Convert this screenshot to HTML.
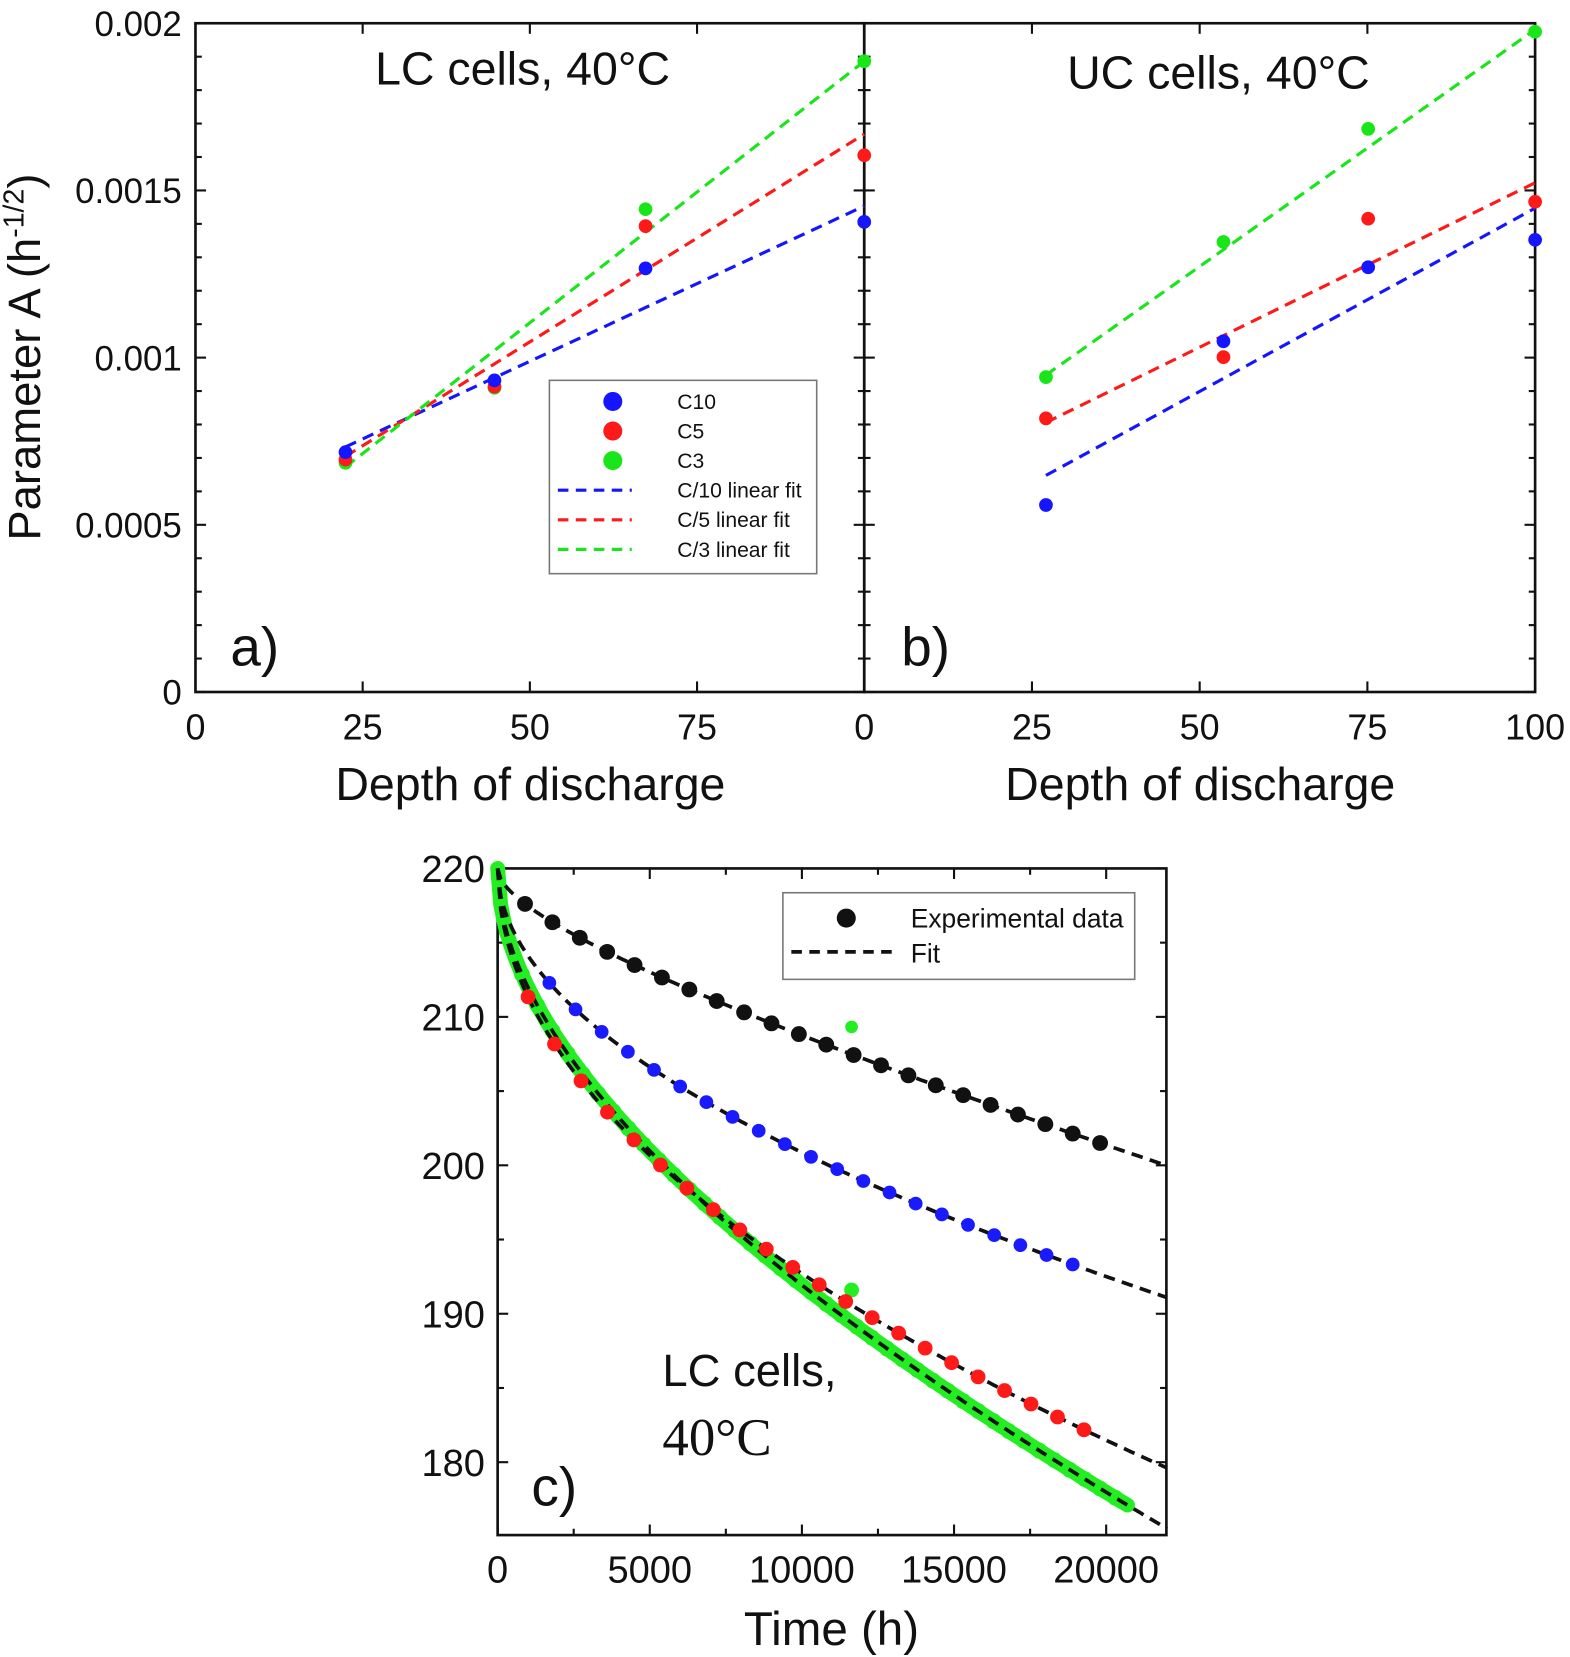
<!DOCTYPE html>
<html><head><meta charset="utf-8"><style>
html,body{margin:0;padding:0;background:#fff;}
svg{display:block;font-family:"Liberation Sans",sans-serif;}
</style></head><body>
<svg id="s" width="1570" height="1657" viewBox="0 0 1486 1568.4" xmlns="http://www.w3.org/2000/svg">
<rect x="0" y="0" width="1486" height="1569" fill="#fff"/>
<g id="g"></g>
</svg>
<script>
const NS="http://www.w3.org/2000/svg";const G=document.getElementById('g');
function el(t,a,txt){const e=document.createElementNS(NS,t);for(const k in a)e.setAttribute(k,a[k]);if(txt!==undefined)e.textContent=txt;G.appendChild(e);return e;}
function line(x1,y1,x2,y2,c,w,d){return el('line',{x1,y1,x2,y2,stroke:c,'stroke-width':w||2,'stroke-dasharray':d||'none'});}
function dot(x,y,r,c){el('circle',{cx:x,cy:y,r:r,fill:c});}
function txt(x,y,s,size,anchor,extra){const a={x,y,'font-size':size,'text-anchor':anchor||'start',fill:'#111'};Object.assign(a,extra||{});return el('text',a,s);}
const D='11 7';
// ---- panels a & b ----
const Y0=655,Y1=22;function ya(v){return Y0-(v/0.002)*(Y0-Y1);}
function frame(x0,x1){el('rect',{x:x0,y:Y1,width:x1-x0,height:Y0-Y1,fill:'none',stroke:'#111','stroke-width':2.5});
 for(let i=0;i<=20;i++){const y=ya(i*0.0001);const L=(i%5==0)?10:6;line(x0,y,x0+L,y,'#111',2);line(x1,y,x1-L,y,'#111',2);}
 for(let i=0;i<=4;i++){const x=x0+(x1-x0)*i/4;line(x,Y0,x,Y0-10,'#111',2);line(x,Y1,x,Y1+10,'#111',2);}}
frame(185,818);frame(818,1453);
[['0',0],['0.0005',0.0005],['0.001',0.001],['0.0015',0.0015],['0.002',0.002]].forEach(([s,v])=>txt(172,ya(v)+12,s,33,'end'));
['0','25','50','75'].forEach((s,i)=>txt(185+158.25*i,700,s,34,'middle'));
['0','25','50','75','100'].forEach((s,i)=>txt(818+158.75*i,700,s,34,'middle'));
txt(502,757,'Depth of discharge',44,'middle');txt(1136,757,'Depth of discharge',44,'middle');
const yt=txt(0,0,'',43,'middle',{transform:'translate(38,338) rotate(-90)'});
yt.innerHTML='Parameter A (h<tspan font-size="27" dy="-16">-1/2</tspan><tspan dy="16">)</tspan>';
txt(355,80,'LC cells, 40°C',44);txt(1010,84,'UC cells, 40°C',44);
txt(218,630,'a)',52);txt(853,630,'b)',52);
// fits a
line(327,423,818,195,'#1515ff',3,D);line(327,432,818,127,'#ff1a1a',3,D);line(327,442,818,58,'#19e619',3,D);
[[327,438],[468,367],[611,198],[818,58]].forEach(p=>dot(p[0],p[1],6.5,'#19e619'));
[[327,435],[468,366],[611,214],[818,147]].forEach(p=>dot(p[0],p[1],6.5,'#ff1a1a'));
[[327,428],[468,360],[611,254],[818,210]].forEach(p=>dot(p[0],p[1],6.5,'#1515ff'));
// fits b
line(990,450,1453,197,'#1515ff',3,D);line(990,400,1453,173,'#ff1a1a',3,D);line(990,355,1453,28,'#19e619',3,D);
[[990,478],[1158,323],[1295,253],[1453,227]].forEach(p=>dot(p[0],p[1],6.5,'#1515ff'));
[[990,396],[1158,338],[1295,207],[1453,191]].forEach(p=>dot(p[0],p[1],6.5,'#ff1a1a'));
[[990,357],[1158,229],[1295,122],[1453,30]].forEach(p=>dot(p[0],p[1],6.5,'#19e619'));
// legend a
el('rect',{x:520,y:360,width:253,height:183,fill:'#fff',stroke:'#777','stroke-width':1.5});
[['C10','#1515ff'],['C5','#ff1a1a'],['C3','#19e619']].forEach(([s,c],i)=>{dot(580,380+28*i,9,c);txt(641,387+28*i,s,20);});
[['C/10 linear fit','#1515ff'],['C/5 linear fit','#ff1a1a'],['C/3 linear fit','#19e619']].forEach(([s,c],i)=>{line(528,464+28*i,598,464+28*i,c,3,'10 7');txt(641,471+28*i,s,20);});
// ---- panel c ----
const cx0=471,cx1=1104,cy0=822,cy1=1453;
function xc(t){return cx0+t*0.0288;}function yc(v){return cy0+(220-v)*14.05;}
el('rect',{x:cx0,y:cy0,width:cx1-cx0,height:cy1-cy0,fill:'none',stroke:'#111','stroke-width':2.5});
for(let v=180;v<=220;v+=5){const y=yc(v);const L=(v%10==0)?10:6;line(cx0,y,cx0+L,y,'#111',2);line(cx1,y,cx1-L,y,'#111',2);}
for(let t=0;t<=22000;t+=2500){const x=xc(t);const L=(t%5000==0)?10:6;line(x,cy1,x,cy1-L,'#111',2);line(x,cy0,x,cy0+L,'#111',2);}
[220,210,200,190,180].forEach(v=>txt(459,yc(v)+13,String(v),36,'end'));
[0,5000,10000,15000,20000].forEach(t=>txt(xc(t),1498,String(t),36,'middle'));
txt(787,1557,'Time (h)',45,'middle');
function f(a,b,t){return 220-a*Math.sqrt(t)-b*t;}
function curve(a,b,tmax){let p=[];for(let t=0;t<=tmax;t+=100)p.push(xc(t).toFixed(1)+','+yc(f(a,b,t)).toFixed(1));return p.join(' ');}
const GA=0.241,GB=0.000397,RA=0.274,RB=-0.0000114,KA=0.0656,KB=0.000468,BA=0.184,BB=0.0000735;
// green thick
el('polyline',{points:curve(GA,GB,20700),fill:'none',stroke:'#22ee22','stroke-width':14,'stroke-linecap':'round'});
for(let t=300;t<=20700;t+=500){dot(xc(t),yc(f(GA,GB,t)),7.5,'#22ee22');}
dot(806,972,6,'#22ee22');dot(806,1221,7,'#22ee22');
// fits
el('polyline',{points:curve(KA,KB,22000),fill:'none',stroke:'#111','stroke-width':3.5,'stroke-dasharray':D});
el('polyline',{points:curve(BA,BB,22000),fill:'none',stroke:'#111','stroke-width':3.5,'stroke-dasharray':D});
el('polyline',{points:curve(RA,RB,22000),fill:'none',stroke:'#111','stroke-width':3.5,'stroke-dasharray':D});
el('polyline',{points:curve(GA,GB,22000),fill:'none',stroke:'#111','stroke-width':3.5,'stroke-dasharray':D});
for(let t=900;t<=20000;t+=900)dot(xc(t),yc(f(KA,KB,t)),7.5,'#111');
for(let t=1700;t<=19600;t+=860)dot(xc(t),yc(f(BA,BB,t)),6.5,'#1a1aff');
for(let t=1000;t<=19600;t+=870)dot(xc(t),yc(f(RA,RB,t)),7,'#ff1a1a');
// legend c
el('rect',{x:741,y:845,width:333,height:82,fill:'#fff',stroke:'#777','stroke-width':1.5});
dot(801,869,9,'#111');txt(862,878,'Experimental data',25);
line(749,901,848,901,'#111',3.5,'10 7');txt(862,911,'Fit',25);
txt(627,1312,'LC cells,',43);txt(627,1377,'40°C',50,'start',{'font-family':'Liberation Serif, serif'});
txt(503,1425,'c)',52);
</script>
</body></html>
